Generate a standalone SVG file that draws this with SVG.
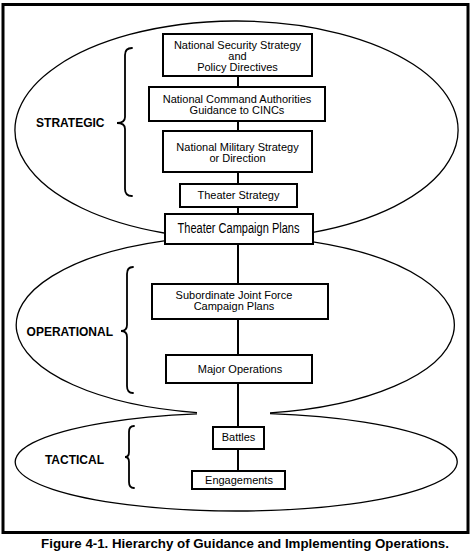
<svg xmlns="http://www.w3.org/2000/svg" width="474" height="556" viewBox="0 0 474 556">
<style>
.box{fill:#fff;stroke:#000;stroke-width:2}
.t{font-family:"Liberation Sans",Arial,sans-serif;font-size:11px;fill:#000;text-anchor:middle}
.lbl{font-family:"Liberation Sans",Arial,sans-serif;font-size:12px;font-weight:bold;fill:#000;text-anchor:end}
.ell{fill:none;stroke:#000;stroke-width:1.3}
.brace{fill:none;stroke:#000;stroke-width:1.8;stroke-linecap:round}
.conn{stroke:#000;stroke-width:2}
</style>
<rect x="0" y="0" width="474" height="556" fill="#fff"/>
<rect x="3" y="4.5" width="465" height="528" fill="none" stroke="#000" stroke-width="3"/>
<g id="levels">
<path class="ell" d="M164,233 A221.5,109 0 1 1 313,232.3"/>
<path class="ell" d="M164,240.8 A219,89 0 0 0 197,412.6"/>
<path class="ell" d="M270,412.9 A219,89 0 0 0 313,241.8"/>
<path class="ell" d="M197,413.8 A221,49 0 1 0 270,413.6"/>
</g>
<g id="braces">
<path class="brace" d="M132,48 Q125,48 125,55 L125,117 Q125,123 117,123 Q125,123 125,129 L125,189 Q125,196 132,196"/>
<path class="brace" d="M133,267 Q127,267 127,274 L127,325 Q127,331 121,331 Q127,331 127,337 L127,386 Q127,393 133,393"/>
<path class="brace" d="M134,426 Q129,426 129,432 L129,452 Q129,457 125,457 Q129,457 129,462 L129,482 Q129,488 134,488"/>
</g>
<g id="labels">
<text class="lbl" x="104.5" y="126.5">STRATEGIC</text>
<text class="lbl" x="113" y="335.5">OPERATIONAL</text>
<text class="lbl" x="104" y="464">TACTICAL</text>
</g>
<g id="connectors">
<line class="conn" x1="238" y1="76" x2="238" y2="87"/>
<line class="conn" x1="238" y1="121" x2="238" y2="131"/>
<line class="conn" x1="238" y1="172" x2="238" y2="184"/>
<line class="conn" x1="238" y1="207" x2="238" y2="214"/>
<line class="conn" x1="238" y1="244" x2="238" y2="284"/>
<line class="conn" x1="238" y1="319" x2="238" y2="355"/>
<line class="conn" x1="238" y1="383" x2="238" y2="427"/>
<line class="conn" x1="238" y1="449" x2="238" y2="471"/>
</g>
<g id="nss">
<rect class="box" x="163" y="34" width="149" height="42"/>
<text class="t" x="237.5" y="49.3">National Security Strategy</text>
<text class="t" x="237.5" y="60.2">and</text>
<text class="t" x="237.5" y="71.1">Policy Directives</text>
</g>
<g id="nca">
<rect class="box" x="149" y="87" width="176" height="34"/>
<text class="t" x="237" y="102.7">National Command Authorities</text>
<text class="t" x="237" y="113.7">Guidance to CINCs</text>
</g>
<g id="nms">
<rect class="box" x="163" y="131" width="149" height="41"/>
<text class="t" x="237.5" y="150.7">National Military Strategy</text>
<text class="t" x="237.5" y="161.5">or Direction</text>
</g>
<g id="ts">
<rect class="box" x="180" y="184" width="117" height="23"/>
<text class="t" x="238.5" y="198.7">Theater Strategy</text>
</g>
<g id="tcp">
<rect class="box" x="165" y="214" width="148" height="30"/>
<text class="t" transform="translate(238.5,233.3) scale(0.735,1)" x="0" y="0" style="font-size:15px">Theater Campaign Plans</text>
</g>
<g id="sjf">
<rect class="box" x="152" y="284" width="176" height="35"/>
<text class="t" x="234" y="299.3">Subordinate Joint Force</text>
<text class="t" x="234" y="310.3">Campaign Plans</text>
</g>
<g id="mo">
<rect class="box" x="166" y="355" width="146" height="28"/>
<text class="t" x="240" y="372.5">Major Operations</text>
</g>
<g id="battles">
<rect class="box" x="213" y="427" width="51" height="22"/>
<text class="t" x="238.5" y="441">Battles</text>
</g>
<g id="eng">
<rect class="box" x="192" y="471" width="93" height="18"/>
<text class="t" x="239" y="484">Engagements</text>
</g>
<text x="245" y="548" style="font-family:'Liberation Sans',Arial,sans-serif;font-size:13.3px;font-weight:bold;text-anchor:middle">Figure 4-1. Hierarchy of Guidance and Implementing Operations.</text>
</svg>
